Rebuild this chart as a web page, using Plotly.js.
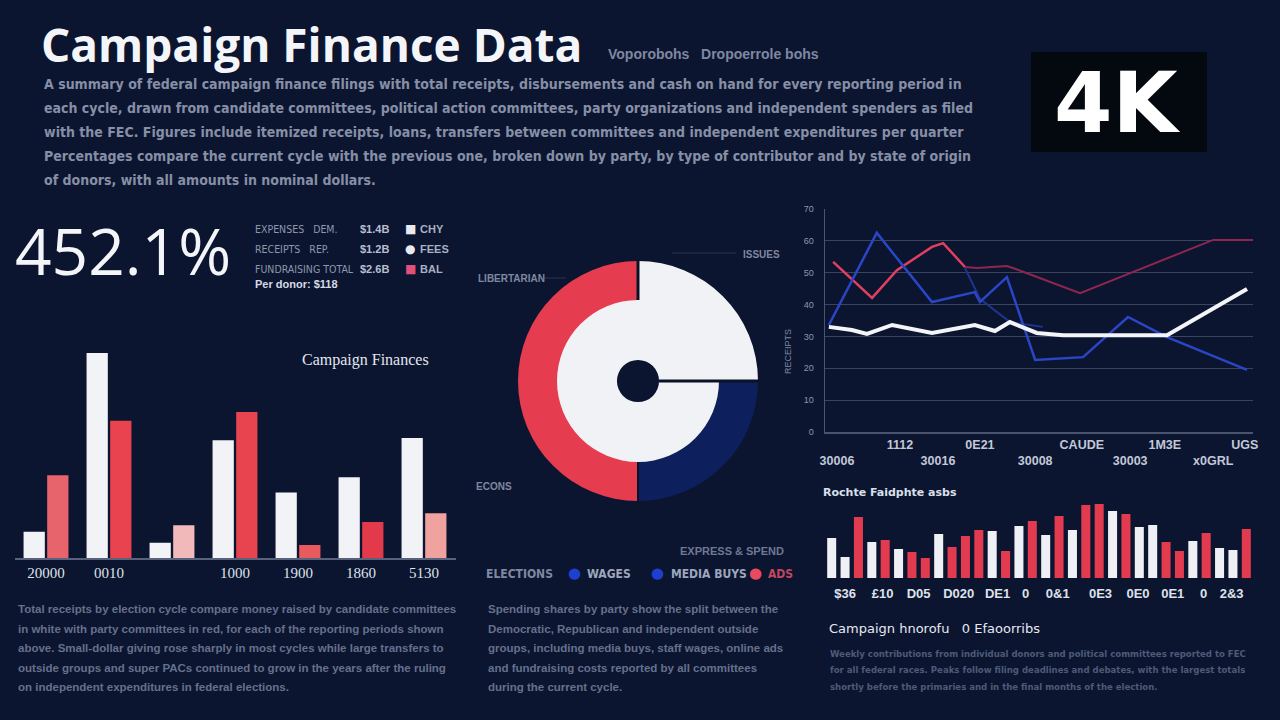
<!DOCTYPE html>
<html><head><meta charset="utf-8">
<script src="https://cdn.plot.ly/plotly-3.0.1.min.js"></script>
<style>html,body{margin:0;padding:0;background:#0b1530;overflow:hidden}#chart{width:1280px;height:720px}</style>
</head><body><div id="chart"></div>
<script>
// ---------- data ----------
const groupLabels = ['20000', '0010', '\u00a0', '1000', '1900', '1860', '5130'];
const whiteValues = [12, 94, 7, 54, 30, 37, 55];
const redValues = [38, 63, 15, 67, 6, 16.5, 20.5];

const lineWhiteX = [0.9, 6.3, 9.8, 15.7, 25, 35, 39.7, 43.2, 49.5, 55.6, 79.9, 98.6];
const lineWhiteY = [33.0, 32.0, 30.8, 33.6, 31.1, 33.6, 31.7, 34.5, 31.1, 30.4, 30.4, 44.9];
const lineBlueX = [0.9, 12.1, 25, 35, 36.2, 42.5, 49.1, 60.3, 70.8, 79.9, 98.6];
const lineBlueY = [33.6, 62.5, 40.8, 43.9, 40.8, 48.6, 22.6, 23.5, 36.1, 29.8, 19.5];
const lineBlue2X = [32.7, 36.2, 43.2, 50.9];
const lineBlue2Y = [51.5, 41.8, 34.5, 33.0];
const lineRedX = [1.9, 11, 16.8, 25, 27.6, 32.7];
const lineRedY = [53.4, 42.1, 50.8, 58.1, 59.3, 51.8];
const lineMaroonX = [32.7, 35.5, 42.5, 43.9, 59.6, 71.3, 90.7, 100];
const lineMaroonY = [51.8, 51.5, 52.1, 51.5, 43.6, 49.9, 60.3, 60.3];
const lineTickVals = [2.8, 17.5, 26.4, 36.2, 49.1, 60.0, 71.3, 79.4, 90.7, 98.1];
const lineTickText = ['<br>30006', '1112<br> ', '<br>30016', '0E21<br> ', '<br>30008', 'CAUDE<br> ', '<br>30003', '1M3E<br> ', '<br>x0GRL', 'UGS<br> '];
const lineYTicks = [0, 10, 20, 30, 40, 50, 60, 70];

const smallBarValues = [40, 21, 61, 36, 38, 29, 26, 20, 44, 31, 42, 48, 47, 27, 52, 57, 43, 62, 48, 73, 74, 67, 64, 51, 53, 36, 27, 37, 45, 30, 28, 49];
const smallBarParty = ['W','W','R','W','R','W','R','R','W','R','R','R','W','R','W','R','W','R','W','R','R','W','R','W','W','R','R','W','R','W','W','R'];
const smallTickVals = [1.0, 3.8, 6.5, 9.5, 12.4, 14.5, 16.9, 20.1, 22.9, 25.5, 27.8, 29.9];
const smallTickText = ['$36', '£10', 'D05', 'D020', 'DE1', '0', '0&1', '0E3', '0E0', '0E1', '0', '2&3'];

const donutLabels = ['Democratic', 'Independent', 'Republican'];
const donutValues = [25, 25, 50];

const headerLines = [
  'A summary of federal campaign finance filings with total receipts, disbursements and cash on hand for every reporting period in',
  'each cycle, drawn from candidate committees, political action committees, party organizations and independent spenders as filed',
  'with the FEC. Figures include itemized receipts, loans, transfers between committees and independent expenditures per quarter',
  'Percentages compare the current cycle with the previous one, broken down by party, by type of contributor and by state of origin',
  'of donors, with all amounts in nominal dollars.'
];
const statRows = [
  ['EXPENSES\u00a0\u00a0\u00a0DEM.', '$1.4B', '■', 'CHY'],
  ['RECEIPTS\u00a0\u00a0\u00a0REP.', '$1.2B', '●', 'FEES'],
  ['FUNDRAISING\u00a0TOTAL', '$2.6B', '■', 'BAL']
];
const leftParagraph = [
  'Total receipts by election cycle compare money raised by candidate committees',
  'in white with party committees in red, for each of the reporting periods shown',
  'above. Small-dollar giving rose sharply in most cycles while large transfers to',
  'outside groups and super PACs continued to grow in the years after the ruling',
  'on independent expenditures in federal elections.'
];
const midParagraph = [
  'Spending shares by party show the split between the',
  'Democratic, Republican and independent outside',
  'groups, including media buys, staff wages, online ads',
  'and fundraising costs reported by all committees',
  'during the current cycle.'
];
const rightParagraph = [
  'Weekly contributions from individual donors and political committees reported to FEC',
  'for all federal races. Peaks follow filing deadlines and debates, with the largest totals',
  'shortly before the primaries and in the final months of the election.'
];

// ---------- helpers ----------
const W = 1280, H = 720;
const BG = '#0b1530';
const SANS = 'Liberation Sans, Arial, sans-serif';
const COND = 'DejaVu Sans Condensed, Liberation Sans, sans-serif';
const px = x => x / W, py = y => 1 - y / H;
function ann(text, x, y, font, extra) {
  return Object.assign({
    text: text, x: px(x), y: py(y), xref: 'paper', yref: 'paper', showarrow: false,
    xanchor: 'left', yanchor: 'middle',
    font: Object.assign({family: SANS, size: 12, color: '#8a93aa'}, font || {})
  }, extra || {});
}

const redColors = ['#e8646c', '#e8434f', '#f2b9bb', '#e8444f', '#e95a5f', '#e23a4a', '#f0a29f'];

const traces = [
  // left grouped bars
  {type: 'bar', x: groupLabels, y: whiteValues, xaxis: 'x', yaxis: 'y', name: 'Candidates',
   marker: {color: '#f2f3f7'}, hoverinfo: 'skip'},
  {type: 'bar', x: groupLabels, y: redValues, xaxis: 'x', yaxis: 'y', name: 'Parties',
   marker: {color: redColors}, hoverinfo: 'skip'},
  // line chart
  {type: 'scatter', mode: 'lines', x: lineBlue2X, y: lineBlue2Y, xaxis: 'x2', yaxis: 'y2',
   line: {color: '#1f3490', width: 2}, hoverinfo: 'skip'},
  {type: 'scatter', mode: 'lines', x: lineMaroonX, y: lineMaroonY, xaxis: 'x2', yaxis: 'y2',
   line: {color: '#8e2650', width: 2}, hoverinfo: 'skip'},
  {type: 'scatter', mode: 'lines', x: lineRedX, y: lineRedY, xaxis: 'x2', yaxis: 'y2',
   line: {color: '#e0405e', width: 2.5}, hoverinfo: 'skip'},
  {type: 'scatter', mode: 'lines', x: lineBlueX, y: lineBlueY, xaxis: 'x2', yaxis: 'y2',
   line: {color: '#2a46c6', width: 2.5}, hoverinfo: 'skip'},
  {type: 'scatter', mode: 'lines', x: lineWhiteX, y: lineWhiteY, xaxis: 'x2', yaxis: 'y2',
   line: {color: '#f4f5f8', width: 4}, hoverinfo: 'skip'},
  // small bars
  {type: 'bar', x: smallBarValues.map((v, i) => i), y: smallBarValues, xaxis: 'x3', yaxis: 'y3',
   marker: {color: smallBarParty.map(p => p === 'W' ? '#eef0f5' : '#e23b4f')}, hoverinfo: 'skip'},
  // donut: outer ring, then inner disc
  {type: 'pie', labels: donutLabels, values: donutValues, sort: false, direction: 'clockwise', rotation: 0,
   hole: 0.667, textinfo: 'none', hoverinfo: 'skip', showlegend: false,
   marker: {colors: ['#f1f2f6', '#0e1f5e', '#e63c50'], line: {width: 0}},
   domain: {x: [518 / W, 758 / W], y: [1 - 501 / H, 1 - 261 / H]}},
  {type: 'pie', labels: ['Total'], values: [1], sort: false, hole: 0.26, textinfo: 'none', hoverinfo: 'skip',
   showlegend: false, marker: {colors: ['#f1f2f6'], line: {width: 0}},
   domain: {x: [557 / W, 719 / W], y: [1 - 462 / H, 1 - 300 / H]}}
];

const annotations = [
  ann('Campaign Finance Data', 39, 44, {family: 'Open Sans', size: 46, weight: 700, color: '#f4f5f9'}),
  ann('Voporobohs\u00a0\u00a0\u00a0Dropoerrole bohs', 606, 54, {size: 14, weight: 'bold', color: '#7f88a0'}),
  ann('4K', 1117, 103, {family: 'DejaVu Sans', size: 84, weight: 'bold', color: '#ffffff'}, {xanchor: 'center'}),
  ann('452.1%', 13, 250, {family: 'Open Sans', size: 64, weight: 400, color: '#f4f5f9'}),
  ann('Campaign Finances', 300, 360, {family: 'Liberation Serif', size: 16, color: '#e4e7ef'}),
  ann('Rochte Faidphte asbs', 821, 492, {family: 'DejaVu Sans', size: 11, weight: 'bold', color: '#dce0ea'}),
  ann('Campaign hnorofu\u00a0\u00a0 0 Efaoorribs', 827, 628, {family: 'DejaVu Sans', size: 13, color: '#e6e9f1'}),
  // donut labels
  ann('LIBERTARIAN', 476, 278, {size: 10, weight: 'bold', color: '#7f88a0'}),
  ann('ISSUES', 741, 254, {size: 10, weight: 'bold', color: '#7f88a0'}),
  ann('ECONS', 474, 486, {size: 10, weight: 'bold', color: '#7f88a0'}),
  ann('RECEIPTS', 788, 352, {size: 9, color: '#7f88a0'}, {textangle: -90, xanchor: 'center'}),
  ann('EXPRESS\u00a0& SPEND', 786, 551, {size: 11, weight: 'bold', color: '#6f7892'}, {xanchor: 'right'}),
  ann('ELECTIONS', 484, 574, {family: COND, size: 12, weight: 'bold', color: '#7f88a0'}),
  ann('●', 566, 573, {family: 'DejaVu Sans', size: 15, color: '#1f3fcf'}),
  ann('WAGES', 585, 574, {family: COND, size: 12, weight: 'bold', color: '#9ea6bc'}),
  ann('●', 649, 573, {family: 'DejaVu Sans', size: 15, color: '#1f3fcf'}),
  ann('MEDIA\u00a0BUYS', 669, 574, {family: COND, size: 12, weight: 'bold', color: '#9ea6bc'}),
  ann('●', 747, 573, {family: 'DejaVu Sans', size: 15, color: '#e84a60'}),
  ann('ADS', 766, 574, {family: COND, size: 12, weight: 'bold', color: '#c0485e'}),
  ann('Per donor: $118', 253, 284, {size: 11, weight: 'bold', color: '#d6dae4'})
];
headerLines.forEach((t, i) => annotations.push(ann(t, 42, 84 + 24 * i, {family: COND, size: 14, weight: 'bold', color: '#868fa6'})));
statRows.forEach((r, i) => {
  const y = 229 + 20 * i;
  annotations.push(ann(r[0], 253, y, {family: COND, size: 10.5, color: '#8e97ad'}));
  annotations.push(ann(r[1], 358, y, {size: 11, weight: 'bold', color: '#b8bfd0'}));
  annotations.push(ann(r[2], 403, y, {family: 'DejaVu Sans', size: 12, color: i === 2 ? '#e0507a' : '#e8eaf0'}));
  annotations.push(ann(r[3], 418, y, {size: 11, weight: 'bold', color: '#a9b0c3'}));
});
leftParagraph.forEach((t, i) => annotations.push(ann(t, 16, 609 + 19.5 * i, {size: 11.5, weight: 'bold', color: '#66708c'})));
midParagraph.forEach((t, i) => annotations.push(ann(t, 486, 609 + 19.5 * i, {size: 11.5, weight: 'bold', color: '#66708c'})));
rightParagraph.forEach((t, i) => annotations.push(ann(t, 828, 653 + 16.5 * i, {family: COND, size: 9.5, weight: 'bold', color: '#4f5a78'})));

const SEP = '#0a1228';
const shapes = [
  {type: 'rect', xref: 'paper', yref: 'paper', x0: px(1031), x1: px(1207), y0: py(152), y1: py(52),
   fillcolor: '#04080f', line: {width: 0}, layer: 'below'},
  // donut slice separators
  {type: 'line', xref: 'paper', yref: 'paper', x0: px(659), x1: px(760), y0: py(381), y1: py(381),
   line: {color: SEP, width: 3}},
  {type: 'line', xref: 'paper', yref: 'paper', x0: px(638), x1: px(638), y0: py(259), y1: py(300),
   line: {color: SEP, width: 3}},
  {type: 'line', xref: 'paper', yref: 'paper', x0: px(638), x1: px(638), y0: py(462), y1: py(503),
   line: {color: SEP, width: 2}},
  // label leader lines
  {type: 'line', xref: 'paper', yref: 'paper', x0: px(538), x1: px(566), y0: py(278), y1: py(278),
   line: {color: '#2b3550', width: 1}},
  {type: 'line', xref: 'paper', yref: 'paper', x0: px(672), x1: px(736), y0: py(253), y1: py(253),
   line: {color: '#2b3550', width: 1}}
];

const axisFontSerif = {family: 'Liberation Serif', size: 15, color: '#dfe2ea'};
const layout = {
  width: W, height: H, margin: {l: 0, r: 0, t: 0, b: 0},
  paper_bgcolor: BG, plot_bgcolor: 'rgba(0,0,0,0)',
  showlegend: false, hovermode: false,
  barmode: 'group', bargap: 0.25, bargroupgap: 0.1,
  xaxis: {domain: [14.5 / W, 455.5 / W], anchor: 'y', type: 'category', showgrid: false, zeroline: false,
          showline: true, linecolor: '#58627c', linewidth: 1.5, ticks: '', tickfont: axisFontSerif, tickangle: 0},
  yaxis: {domain: [1 - 558 / H, 1 - 340 / H], anchor: 'x', range: [0, 100], visible: false},
  xaxis2: {domain: [825 / W, 1253 / W], anchor: 'y2', range: [0, 100], showgrid: false, zeroline: false,
           showline: true, linecolor: '#4a546e', linewidth: 1.5, ticks: '', tickmode: 'array', tickangle: 0,
           tickvals: lineTickVals, ticktext: lineTickText,
           tickfont: {family: 'Liberation Sans', size: 12.5, weight: 'bold', color: '#c3c8d8'}},
  yaxis2: {domain: [1 - 432 / H, 1 - 209 / H], anchor: 'x2', range: [0, 70], tickmode: 'array', tickvals: lineYTicks,
           showgrid: true, gridcolor: '#3a445e', gridwidth: 1, zeroline: false, showline: true,
           linecolor: '#4a546e', linewidth: 1.5, ticks: '', ticklabelstandoff: 8,
           tickfont: {family: SANS, size: 9, color: '#8d95ab'}},
  xaxis3: {domain: [825 / W, 1253 / W], anchor: 'y3', range: [-0.5, 31.5], showgrid: false, zeroline: false,
           showline: false, ticks: '', tickmode: 'array', tickvals: smallTickVals, ticktext: smallTickText, tickangle: 0,
           ticklabelstandoff: 6,
           tickfont: {family: 'Liberation Sans', size: 13, weight: 'bold', color: '#dfe2ea'}},
  yaxis3: {domain: [1 - 578 / H, 1 - 498 / H], anchor: 'x3', range: [0, 80], visible: false},
  annotations: annotations,
  shapes: shapes
};

Plotly.newPlot('chart', traces, layout, {staticPlot: true, displayModeBar: false});
</script>
</body></html>
